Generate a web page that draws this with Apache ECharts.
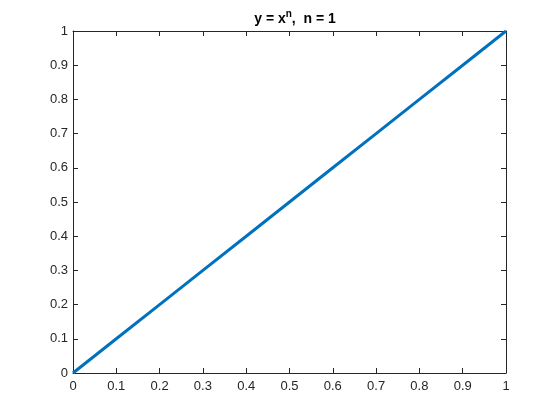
<!DOCTYPE html>
<html>
<head>
<meta charset="utf-8">
<script src="https://cdn.jsdelivr.net/npm/echarts@6/dist/echarts.min.js"></script>
<style>
  html, body { margin: 0; padding: 0; background: #fff; }
  #chart { width: 560px; height: 420px; }
</style>
</head>
<body>
<div id="chart"></div>
<script>
// data: y = x^n with n = 1
var xValues = [0, 0.1, 0.2, 0.3, 0.4, 0.5, 0.6, 0.7, 0.8, 0.9, 1];
var yValues = [0, 0.1, 0.2, 0.3, 0.4, 0.5, 0.6, 0.7, 0.8, 0.9, 1];
var tickLabels = ['0', '0.1', '0.2', '0.3', '0.4', '0.5', '0.6', '0.7', '0.8', '0.9', '1'];

var axisColor = '#262626';
var fontName = 'Liberation Sans, Arial, sans-serif';

var points = [];
for (var i = 0; i < xValues.length; i++) {
    points.push([xValues[i], yValues[i]]);
}

function fmt(v) {
    var idx = Math.round(v * 10);
    return tickLabels[idx] !== undefined ? tickLabels[idx] : '';
}

function makeAxis(pos, showLabels, margin) {
    return {
        type: 'value',
        position: pos,
        min: 0, max: 1, interval: 0.1,
        axisLine: { show: true, onZero: false, lineStyle: { color: axisColor, width: 1 } },
        axisTick: { show: true, inside: true, length: 5, lineStyle: { color: axisColor, width: 1 } },
        axisLabel: {
            show: showLabels, formatter: fmt, color: axisColor,
            fontFamily: fontName, fontSize: 13, margin: margin
        },
        splitLine: { show: false }
    };
}

var chart = echarts.init(document.getElementById('chart'), null, { renderer: 'canvas' });
chart.setOption({
    animation: false,
    backgroundColor: '#fff',
    title: {
        text: '{m|y = x}{sup|n}{m|,  n = 1}',
        left: 290, top: 5, textAlign: 'center',
        textStyle: {
            fontFamily: fontName, fontSize: 14, fontWeight: 'bold', color: '#000',
            rich: {
                m: { fontFamily: fontName, fontSize: 14, fontWeight: 'bold', color: '#000', verticalAlign: 'bottom', lineHeight: 16 },
                sup: { fontFamily: fontName, fontSize: 10, fontWeight: 'bold', color: '#000', verticalAlign: 'bottom', lineHeight: 10, padding: [0, 0, 7, 0] }
            }
        }
    },
    grid: { left: 73, right: 54, top: 31, bottom: 47, containLabel: false },
    xAxis: [makeAxis('bottom', true, 7), makeAxis('top', false, 7)],
    yAxis: [makeAxis('left', true, 5), makeAxis('right', false, 5)],
    series: [{
        type: 'line',
        data: points,
        showSymbol: false,
        symbol: 'none',
        lineStyle: { color: '#0072BD', width: 3 },
        itemStyle: { color: '#0072BD' }
    }]
});
</script>
</body>
</html>
